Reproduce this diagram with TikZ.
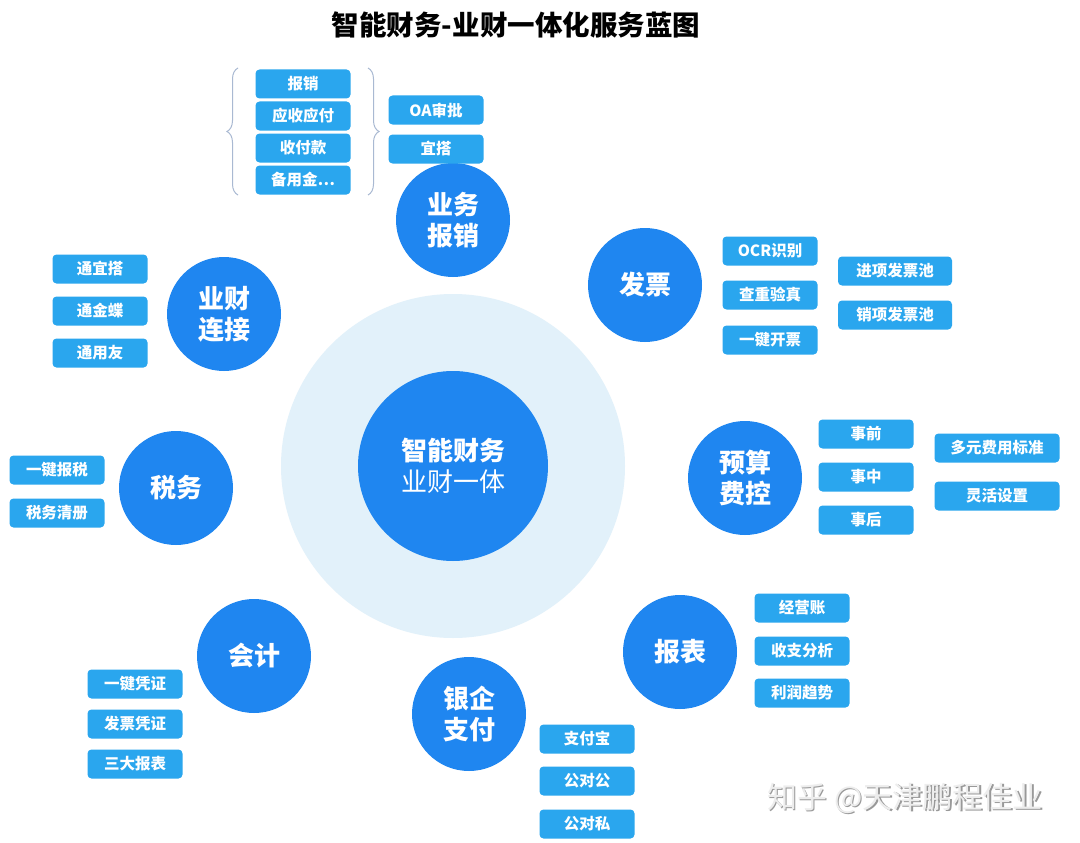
\documentclass[tikz,border=0pt]{standalone}
\usepackage{fontspec}
\setmainfont{Noto Sans CJK SC}
\usetikzlibrary{decorations.pathreplacing}
\definecolor{circblue}{HTML}{1F86F0}
\definecolor{boxblue}{HTML}{2AA6EE}
\definecolor{halo}{HTML}{E2F1FA}
\definecolor{bracec}{HTML}{A9B9D2}
\tikzset{
  bigc/.style={circle,fill=circblue,minimum size=114pt,inner sep=0pt,text=white,align=center,
    font=\fontsize{26}{31}\selectfont\bfseries},
  tag/.style={rounded corners=4pt,fill=boxblue,minimum width=95pt,minimum height=29pt,inner sep=0pt,
    text=white,font=\fontsize{15.5}{18}\selectfont\bfseries},
  bracestyle/.style={draw=bracec,line width=1pt,decorate,decoration={brace,amplitude=11pt}}
}
\begin{document}
\begin{tikzpicture}[x=1pt,y=-1pt]
\useasboundingbox (0,0) rectangle (1080,843);
\fill[white] (0,0) rectangle (1080,843);
% title
\node (title) at (516,25) {\fontsize{27.5}{30}\selectfont\bfseries 智能财务-业财一体化服务蓝图};
% halo and center
\fill[halo] (453,466) circle (172);
\node[circle,fill=circblue,minimum size=190pt,inner sep=0pt,text=white,align=center] (center) at (453,466)
  {\fontsize{26}{31}\selectfont\bfseries 智能财务\\[6pt]\fontsize{26}{31}\selectfont 业财一体};
% satellites
\node[bigc] (yw) at (453,220) {业务\\报销};
\node[bigc] (fp) at (645,285) {发票};
\node[bigc] (ys) at (745,478) {预算\\费控};
\node[bigc] (bb) at (680,652) {报表};
\node[bigc] (yq) at (469,714) {银企\\支付};
\node[bigc] (kj) at (254,656) {会计};
\node[bigc] (sw) at (176,488) {税务};
\node[bigc] (yc) at (224,314) {业财\\连接};
% top group
\node[tag] (t1) at (303,84) {报销};
\node[tag] (t2) at (303,116) {应收应付};
\node[tag] (t3) at (303,148) {收付款};
\node[tag] (t4) at (303,180) {备用金…};
\coordinate (lb1) at (238,195);
\coordinate (lb2) at (238,68);
\coordinate (rb1) at (368,68);
\coordinate (rb2) at (368,195);
\draw[bracestyle] (lb1) -- (lb2);
\draw[bracestyle] (rb1) -- (rb2);
\node[tag] (t5) at (436,110) {OA审批};
\node[tag] (t6) at (436,149) {宜搭};
% invoice
\node[tag] (f1) at (770,251) {OCR识别};
\node[tag] (f2) at (770,295) {查重验真};
\node[tag] (f3) at (770,340) {一键开票};
\node[tag,minimum width=114pt] (f4) at (895,271) {进项发票池};
\node[tag,minimum width=114pt] (f5) at (895,315) {销项发票池};
% budget
\node[tag] (b1) at (866,434) {事前};
\node[tag] (b2) at (866,477) {事中};
\node[tag] (b3) at (866,520) {事后};
\node[tag,minimum width=125pt] (b4) at (997,448) {多元费用标准};
\node[tag,minimum width=125pt] (b5) at (997,496) {灵活设置};
% report
\node[tag] (r1) at (802,608) {经营账};
\node[tag] (r2) at (802,651) {收支分析};
\node[tag] (r3) at (802,693) {利润趋势};
% payment
\node[tag] (p1) at (587,739) {支付宝};
\node[tag] (p2) at (587,781) {公对公};
\node[tag] (p3) at (587,824) {公对私};
% accounting
\node[tag] (a1) at (135,684) {一键凭证};
\node[tag] (a2) at (135,724) {发票凭证};
\node[tag] (a3) at (135,764) {三大报表};
% tax
\node[tag] (s1) at (57,470) {一键报税};
\node[tag] (s2) at (57,513) {税务清册};
% connect
\node[tag] (c1) at (100,269) {通宜搭};
\node[tag] (c2) at (100,311) {通金蝶};
\node[tag] (c3) at (100,353) {通用友};
% watermark
\node[text=black!40] (wms) at (906.5,799.5) {\fontsize{30}{33}\selectfont 知乎 @天津鹏程佳业};
\node[text=black!7] (wm) at (905,798) {\fontsize{30}{33}\selectfont 知乎 @天津鹏程佳业};
\end{tikzpicture}
\end{document}
